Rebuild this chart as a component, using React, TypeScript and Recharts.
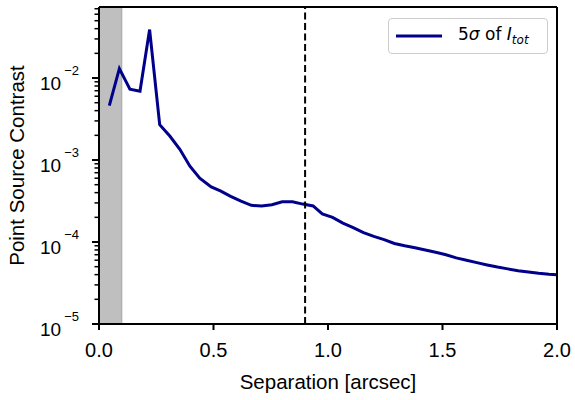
import React from "react";
import {
  LineChart,
  Line,
  XAxis,
  YAxis,
  ReferenceArea,
  ReferenceLine,
  Legend,
} from "recharts";

// separation [arcsec] and 5-sigma contrast
const separation = [
  0.045, 0.089, 0.135, 0.179, 0.221, 0.265, 0.31, 0.353, 0.397, 0.44,
  0.49, 0.53, 0.575, 0.62, 0.665, 0.71, 0.755, 0.8, 0.845, 0.89,
  0.935, 0.975, 1.02, 1.065, 1.11, 1.155, 1.2, 1.245, 1.29, 1.335,
  1.38, 1.425, 1.47, 1.515, 1.56, 1.605, 1.65, 1.695, 1.74, 1.785,
  1.83, 1.875, 1.92, 1.965, 2.0,
];
const contrast = [
  4.6e-3, 1.3e-2, 7.3e-3, 6.9e-3, 3.9e-2, 2.7e-3, 1.95e-3, 1.35e-3, 8.4e-4, 6.0e-4,
  4.7e-4, 4.2e-4, 3.6e-4, 3.15e-4, 2.8e-4, 2.75e-4, 2.85e-4, 3.1e-4, 3.1e-4, 2.9e-4,
  2.75e-4, 2.2e-4, 2.0e-4, 1.7e-4, 1.5e-4, 1.3e-4, 1.17e-4, 1.07e-4, 9.6e-5, 9.0e-5,
  8.5e-5, 8.0e-5, 7.5e-5, 7.0e-5, 6.4e-5, 6.0e-5, 5.6e-5, 5.25e-5, 4.95e-5, 4.7e-5,
  4.45e-5, 4.3e-5, 4.15e-5, 4.05e-5, 4.0e-5,
];

const xTicks = [0, 0.5, 1.0, 1.5, 2.0];
const yMajor = [1e-5, 1e-4, 1e-3, 1e-2];
const yMinor = [
  2e-5, 3e-5, 4e-5, 5e-5, 6e-5, 7e-5, 8e-5, 9e-5,
  2e-4, 3e-4, 4e-4, 5e-4, 6e-4, 7e-4, 8e-4, 9e-4,
  2e-3, 3e-3, 4e-3, 5e-3, 6e-3, 7e-3, 8e-3, 9e-3,
  2e-2, 3e-2, 4e-2, 5e-2, 6e-2, 7e-2,
];

const data = separation.map((s, i) => ({ sep: s, contrast: contrast[i] }));

const SANS = "'Liberation Sans', Arial, sans-serif";
const TICK = "#000";

const SepTick = (props: any) => {
  const { x, y, payload } = props;
  // y is the label anchor: axis + tickSize + tickMargin (19)
  return (
    <g>
      <rect x={x - 1} y={y - 20} width={2} height={7} fill={TICK} />
      <text x={x} y={y + 14} textAnchor="middle" fontFamily={SANS} fontSize={20} fill="#000">
        {payload.value.toFixed(1)}
      </text>
    </g>
  );
};

/** log-axis tick: long tick + 10^n label for decades, short tick otherwise */
const LogTick = (props: any) => {
  const { x, y, payload } = props;
  const v = payload.value;
  if (!yMajor.includes(v)) {
    return <rect x={x - 4.5} y={y - 0.75} width={4.5} height={1.5} fill={TICK} />;
  }
  const exp = Math.round(Math.log10(v));
  return (
    <g>
      <rect x={x - 7} y={y - 1} width={7} height={2} fill={TICK} />
      <text x={x - 20} y={y + 12} textAnchor="end" fontFamily={SANS} fill="#000">
        <tspan fontSize={19}>10</tspan>
        <tspan fontSize={13} dx={3} dy={-15}>
          {`\u2212${-exp}`}
        </tspan>
      </text>
    </g>
  );
};

const LegendBox = () => (
  <div
    style={{
      boxSizing: "border-box",
      width: 160,
      height: 36,
      border: "1px solid #cccccc",
      borderRadius: 4,
      background: "rgba(255,255,255,0.8)",
      display: "flex",
      alignItems: "center",
      fontFamily: "'DejaVu Sans', sans-serif",
      fontSize: 17,
      color: "#000",
    }}
  >
    <svg width={46} height={10} style={{ marginLeft: 7, marginRight: 16 }}>
      <line x1={0} x2={46} y1={5} y2={5} stroke="#00008b" strokeWidth={3} />
    </svg>
    <span>
      5<i>σ</i> of <i>I</i>
      <sub style={{ fontSize: 12 }}>
        <i>tot</i>
      </sub>
    </span>
  </div>
);

export default function App() {
  return (
    <div style={{ position: "absolute", left: 0, top: 0, width: 575, height: 400, background: "#fff" }}>
      <LineChart width={575} height={400} data={data} margin={{ top: 6, right: 17, bottom: 6, left: 0 }}>
        <XAxis
          dataKey="sep"
          type="number"
          domain={[0, 2]}
          ticks={xTicks}
          allowDataOverflow
          tick={<SepTick />}
          tickLine={false}
          stroke="#000"
          axisLine={{ stroke: "#000", strokeWidth: 2 }}
          tickSize={6}
          tickMargin={13}
          height={70}
          interval={0}
          label={{
            value: "Separation [arcsec]",
            position: "insideBottom",
            offset: 5,
            fill: "#000",
            fontSize: 20.5,
            fontFamily: SANS,
          }}
        />
        <XAxis
          xAxisId="top"
          dataKey="sep"
          type="number"
          domain={[0, 2]}
          orientation="top"
          height={1}
          tick={false}
          tickLine={false}
          stroke="#000"
          axisLine={{ stroke: "#000", strokeWidth: 2 }}
        />
        <YAxis
          type="number"
          scale="log"
          domain={[1e-5, 0.0735]}
          allowDataOverflow
          ticks={[...yMajor, ...yMinor]}
          interval={0}
          tick={<LogTick />}
          tickLine={false}
          tickSize={0}
          tickMargin={0}
          width={99}
          stroke="#000"
          axisLine={{ stroke: "#000", strokeWidth: 2 }}
          label={{
            value: "Point Source Contrast",
            angle: -90,
            position: "insideLeft",
            offset: 17,
            fill: "#000",
            fontSize: 20.5,
            fontFamily: SANS,
            style: { textAnchor: "middle" },
          }}
        />
        <YAxis
          yAxisId="right"
          orientation="right"
          type="number"
          scale="log"
          domain={[1e-5, 0.0735]}
          width={1}
          tick={false}
          tickLine={false}
          stroke="#000"
          axisLine={{ stroke: "#000", strokeWidth: 2 }}
        />
        <ReferenceArea
          x1={0}
          x2={0.1}
          fill="#808080"
          fillOpacity={0.5}
          stroke="#808080"
          strokeOpacity={0.5}
        />
        <Line
          type="linear"
          dataKey="contrast"
          name="5σ of Itot"
          stroke="#00008b"
          strokeWidth={3}
          dot={false}
          activeDot={false}
          isAnimationActive={false}
        />
        <ReferenceLine x={0.9} stroke="#000" strokeWidth={2} strokeDasharray="7 3.5" />
        <Legend
          layout="vertical"
          align="center"
          verticalAlign="middle"
          wrapperStyle={{ left: 388, top: 18, width: 160, height: 36 }}
          content={() => <LegendBox />}
        />
      </LineChart>
    </div>
  );
}
